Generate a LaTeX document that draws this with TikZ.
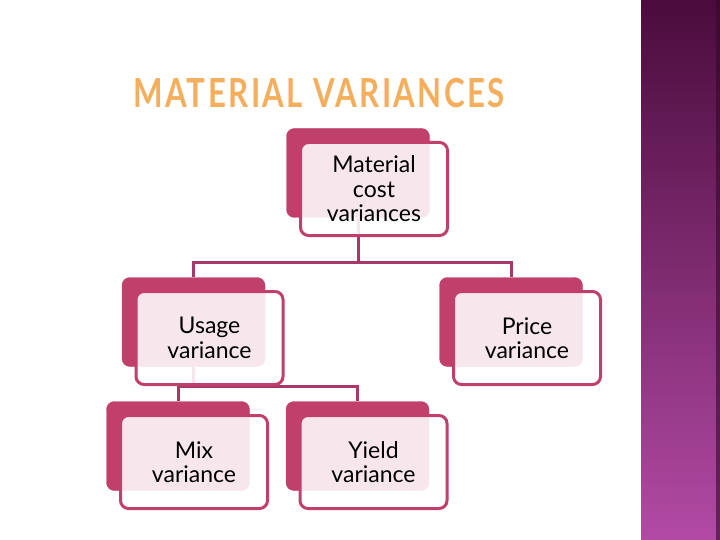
\documentclass[tikz,border=0pt]{standalone}
\usepackage{fontspec}
\setmainfont{Lato}
\definecolor{rose}{HTML}{C0406B}
\definecolor{roseline}{HTML}{A8386A}
\definecolor{titleorange}{HTML}{F4AE5C}
\definecolor{sidetop}{HTML}{4A0C3C}
\definecolor{sidebot}{HTML}{B24AA4}
\begin{document}
\begin{tikzpicture}[x=1pt,y=-1pt,
    backbox/.style={draw=rose,fill=rose,rounded corners=8pt,minimum width=143pt,minimum height=89pt,inner sep=0pt},
    frontbox/.style={draw=rose,line width=3pt,fill=white,fill opacity=0.88,text opacity=1,rounded corners=8pt,
        minimum width=147pt,minimum height=93pt,inner sep=0pt,align=center,font=\fontsize{23}{24.5}\selectfont},
    link/.style={draw=roseline,line width=3pt}]
    %% page and side bar
    \fill[white] (0,0) rectangle (720,540);
    \shade[top color=sidetop,bottom color=sidebot] (641,0) rectangle (720,540);
    \fill[sidetop!70!black,opacity=0.6] (716,0) rectangle (720,540);
    %% title
    \node[anchor=west,text=titleorange,inner sep=0pt,xscale=0.78,transform shape,
        font=\fontsize{40}{40}\selectfont\bfseries\addfontfeature{LetterSpace=7.8}] (title) at (133,93) {MATERIAL VARIANCES};
    %% back boxes
    \node[backbox] (matback) at (358,173) {};
    \node[backbox] (usageback) at (193.5,322) {};
    \node[backbox] (priceback) at (511,322) {};
    \node[backbox] (mixback) at (178,446) {};
    \node[backbox] (yieldback) at (357.5,446) {};
    %% connectors
    \coordinate (bus1) at (358,262);
    \coordinate (bus2) at (193.5,386);
    \draw[link] (matback.south) -- (bus1);
    \draw[link] (usageback.north) |- (bus1) -| (priceback.north);
    \draw[link] (usageback.south) -- (bus2);
    \draw[link] (mixback.north) |- (bus2) -| (yieldback.north);
    %% front boxes
    \node[frontbox] (mat) at (374,189) {Material\\cost\\variances};
    \node[frontbox] (usage) at (209.5,338) {Usage\\variance};
    \node[frontbox] (price) at (527,338) {Price\\variance};
    \node[frontbox] (mix) at (194,462) {Mix\\variance};
    \node[frontbox] (yield) at (373.5,462) {Yield\\variance};
\end{tikzpicture}
\end{document}
